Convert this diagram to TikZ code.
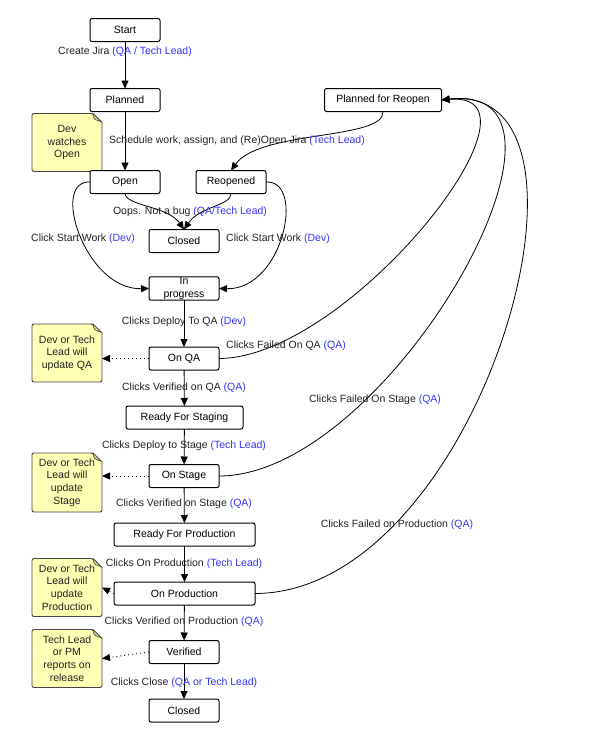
\documentclass[tikz,border=0pt]{standalone}
\usepackage{fontspec}
\setmainfont{Liberation Sans}
\usetikzlibrary{arrows.meta,backgrounds}

\definecolor{inkgray}{HTML}{222222}
\definecolor{rolecol}{HTML}{3333FF}
\definecolor{notefill}{HTML}{FFFFB5}
\definecolor{notefold}{HTML}{D2D296}
\definecolor{noteline}{HTML}{444444}

\newcommand\who[1]{\textcolor{rolecol}{(#1)}}

% yellow note with a folded corner, drawn round a node
\newcommand\drawnote[1]{%
  \draw[noteline, line width=0.9pt, fill=notefill, rounded corners=2pt]
    (#1.south west) -- (#1.north west) -- ([xshift=-9pt]#1.north east)
    [sharp corners] -- ([yshift=-9pt]#1.north east)
    [rounded corners=2pt] -- (#1.south east) -- cycle;
  \draw[noteline, line width=0.6pt, fill=notefold]
    ([xshift=-9pt]#1.north east)
    .. controls ([xshift=-8pt,yshift=-6pt]#1.north east) ..
    ([xshift=-1pt,yshift=-8pt]#1.north east) -- ([yshift=-9pt]#1.north east) -- cycle;
}

\tikzset{
  status/.style={draw=black, line width=1pt, rounded corners=2pt, fill=white,
    minimum width=70pt, minimum height=23pt, inner sep=0.5pt, outer sep=0pt},
  remark/.style={minimum width=70pt, minimum height=58pt, inner sep=0pt,
    outer sep=0pt, align=center, text=inkgray,
    font=\fontsize{10.5}{12.7}\selectfont},
  flow/.style={draw=black, line width=0.8pt, -{Triangle[length=8pt,width=7pt]}},
  hint/.style={flow, dash pattern=on 1pt off 3pt},
  tag/.style={inner sep=0pt, text=inkgray, yshift=-1.5pt},
}

\begin{document}
\begin{tikzpicture}[x=1pt, y=-1pt, font=\fontsize{10.5}{12}\selectfont]
  \useasboundingbox (0,0) rectangle (596,750);

  % The states.
  \node[status] (start) at (125,30) {Start};
  \node[status] (planned) at (125,100) {Planned};
  \node[status, minimum width=117pt] (pfr) at (383,100) {Planned for Reopen};
  \node[status] (open) at (125,182) {Open};
  \node[status] (reopened) at (231,182) {Reopened};
  \node[status] (closedA) at (184,241) {Closed};
  \node[status, align=center, font=\fontsize{10.5}{13}\selectfont] (inprog) at (184,288.5) {In\\progress};
  \node[status] (onqa) at (184,358.5) {On QA};
  \node[status, minimum width=117pt] (rfs) at (184.5,417.5) {Ready For Staging};
  \node[status] (onstage) at (184,476) {On Stage};
  \node[status, minimum width=141pt] (rfp) at (184.5,534.5) {Ready For Production};
  \node[status, minimum width=141pt] (onprod) at (184.5,593.5) {On Production};
  \node[status] (verified) at (184,652) {Verified};
  \node[status] (closedB) at (184,710.5) {Closed};

  % The notes on the left.
  \node[remark] (noteopen) at (67,142.5) {Dev\\watches\\Open};
  \node[remark] (noteqa) at (67,353) {Dev or Tech\\Lead will\\update QA};
  \node[remark, minimum height=59pt] (notestage) at (67,482.5) {Dev or Tech\\Lead will\\update\\Stage};
  \node[remark] (noteprod) at (67,587.5) {Dev or Tech\\Lead will\\update\\Production};
  \node[remark] (noterel) at (67,658.5) {Tech Lead\\or PM\\reports on\\release};
  \begin{scope}[on background layer]
    \drawnote{noteopen}
    \drawnote{noteqa}
    \drawnote{notestage}
    \drawnote{noteprod}
    \drawnote{noterel}
  \end{scope}

  % The main line.
  \draw[flow] (start) -- (planned);
  \draw[flow] (planned) -- (open);
  \draw[flow] (inprog) -- (onqa);
  \draw[flow] (onqa) -- (rfs);
  \draw[flow] (rfs) -- (onstage);
  \draw[flow] (onstage) -- (rfp);
  \draw[flow] (rfp) -- (onprod);
  \draw[flow] (onprod) -- (verified);
  \draw[flow] (verified) -- (closedB);

  % Reopen, not a bug, start work.
  \draw[flow] (pfr.south) .. controls (385,140) and (260,130) .. (reopened.north);
  \draw[flow] (open.south) .. controls (126,206) and (168,206) .. (closedA.north);
  \draw[flow] (reopened.south) .. controls (231,206) and (200,206) .. (closedA.north);
  \draw[flow] (open.west) .. controls (50,180) and (85,290) .. (inprog.west);
  \draw[flow] (reopened.east) .. controls (306,180) and (283,290) .. (inprog.east);

  % The failures back to Planned for Reopen.
  \draw[flow] (onqa.east) .. controls (350,358) and (560,90) .. (pfr.east);
  \draw[flow] (onstage.east) .. controls (390,476) and (610,80) .. (pfr.east);
  \draw[flow] (onprod.east) .. controls (480,593) and (625,80) .. (pfr.east);

  % Dotted hints to the notes.
  \draw[hint] (onqa.west) -- (onqa.west -| noteqa.east);
  \draw[hint] (onstage.west) -- (onstage.west -| notestage.east);
  \draw[hint] (onprod.west) -- (noteprod.east);
  \draw[hint] (verified.west) -- (noterel.east);

  % The labels.
  \node[tag] (lcreate) at (125,50) {Create Jira \who{QA / Tech Lead}};
  \node[tag] (lschedule) at (237,139) {Schedule work, assign, and (Re)Open Jira \who{Tech Lead}};
  \node[tag] (loops) at (190,210) {Oops. Not a bug \who{QA/Tech Lead}};
  \node[tag] (lstartL) at (83,237) {Click Start Work \who{Dev}};
  \node[tag] (lstartR) at (278,237) {Click Start Work \who{Dev}};
  \node[tag] (ldeployqa) at (184,320) {Clicks Deploy To QA \who{Dev}};
  \node[tag] (lfailqa) at (286,344) {Clicks Failed On QA \who{QA}};
  \node[tag] (lverqa) at (184,386) {Clicks Verified on QA \who{QA}};
  \node[tag] (lfailstage) at (375,398) {Clicks Failed On Stage \who{QA}};
  \node[tag] (ldeploystage) at (184,444) {Clicks Deploy to Stage \who{Tech Lead}};
  \node[tag] (lverstage) at (184,502) {Clicks Verified on Stage \who{QA}};
  \node[tag] (lfailprod) at (397,523) {Clicks Failed on Production \who{QA}};
  \node[tag] (lonprod) at (184,562) {Clicks On Production \who{Tech Lead}};
  \node[tag] (lverprod) at (184,620) {Clicks Verified on Production \who{QA}};
  \node[tag] (lclose) at (184,681) {Clicks Close \who{QA or Tech Lead}};

\end{tikzpicture}
\end{document}
